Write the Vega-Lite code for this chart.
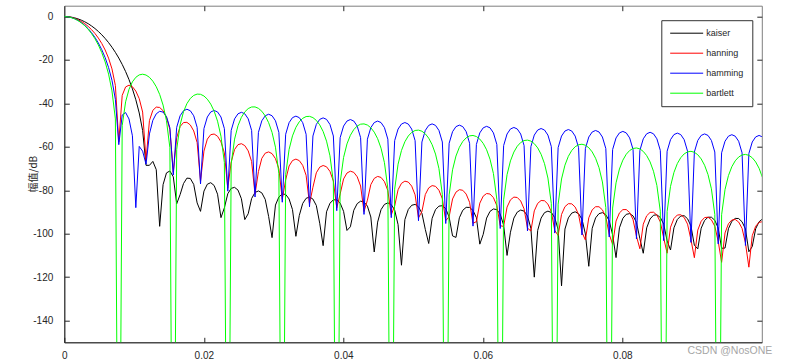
{
 "$schema": "https://vega.github.io/schema/vega-lite/v6.json",
 "width": 697.5,
 "height": 336.6,
 "autosize": {"type": "none"},
 "padding": {"left": 64.3, "top": 5.7, "right": 26.2, "bottom": 21.7},
 "background": "white",
 "config": {"view": {"stroke": "#7f7f7f", "strokeWidth": 1}, "font": "Liberation Sans"},
 "title": {"text": "CSDN @NosONE", "orient": "bottom", "anchor": "end", "fontSize": 10.5, "fontWeight": "normal", "color": "#a6a6a6", "font": "Liberation Sans", "offset": 0, "dy": -14, "dx": 10},
 "data": {"values": [
{"x":0,"kaiser":0,"hanning":0,"hamming":0,"bartlett":0},
{"x":0.000488,"kaiser":-0.07,"hanning":-0.09,"hamming":-0.11,"bartlett":-0.11},
{"x":0.000977,"kaiser":-0.26,"hanning":-0.35,"hamming":-0.43,"bartlett":-0.45},
{"x":0.001465,"kaiser":-0.59,"hanning":-0.8,"hamming":-0.98,"bartlett":-1.02},
{"x":0.001953,"kaiser":-1.06,"hanning":-1.42,"hamming":-1.75,"bartlett":-1.82},
{"x":0.002441,"kaiser":-1.66,"hanning":-2.25,"hamming":-2.76,"bartlett":-2.89},
{"x":0.00293,"kaiser":-2.4,"hanning":-3.27,"hamming":-4.03,"bartlett":-4.22},
{"x":0.003418,"kaiser":-3.28,"hanning":-4.52,"hamming":-5.57,"bartlett":-5.86},
{"x":0.003906,"kaiser":-4.32,"hanning":-6.02,"hamming":-7.41,"bartlett":-7.84},
{"x":0.004395,"kaiser":-5.51,"hanning":-7.8,"hamming":-9.6,"bartlett":-10.23},
{"x":0.004883,"kaiser":-6.86,"hanning":-9.89,"hamming":-12.18,"bartlett":-13.1},
{"x":0.005371,"kaiser":-8.38,"hanning":-12.39,"hamming":-15.25,"bartlett":-16.58},
{"x":0.005859,"kaiser":-10.09,"hanning":-15.4,"hamming":-18.92,"bartlett":-20.91},
{"x":0.006348,"kaiser":-12.0,"hanning":-19.15,"hamming":-23.46,"bartlett":-26.49},
{"x":0.006836,"kaiser":-14.12,"hanning":-24.1,"hamming":-29.35,"bartlett":-34.25},
{"x":0.007324,"kaiser":-16.48,"hanning":-31.76,"hamming":-38.15,"bartlett":-47.15},
{"x":0.007813,"kaiser":-19.1,"hanning":-57.7,"hamming":-59.0,"bartlett":-300},
{"x":0.008301,"kaiser":-22.03,"hanning":-36.32,"hamming":-45.35,"bartlett":-50.25},
{"x":0.008789,"kaiser":-25.32,"hanning":-32.42,"hamming":-44.21,"bartlett":-39.28},
{"x":0.009277,"kaiser":-29.04,"hanning":-31.59,"hamming":-47.16,"bartlett":-33.52},
{"x":0.009766,"kaiser":-33.3,"hanning":-32.3,"hamming":-54.91,"bartlett":-30.05},
{"x":0.010254,"kaiser":-38.3,"hanning":-34.31,"hamming":-88.0,"bartlett":-27.97},
{"x":0.010742,"kaiser":-44.4,"hanning":-37.79,"hamming":-59.8,"bartlett":-26.86},
{"x":0.01123,"kaiser":-52.47,"hanning":-43.98,"hamming":-62.0,"bartlett":-26.55},
{"x":0.011719,"kaiser":-68.5,"hanning":-66.2,"hamming":-68.0,"bartlett":-26.93},
{"x":0.012207,"kaiser":-68.5,"hanning":-47.88,"hamming":-54.03,"bartlett":-27.99},
{"x":0.012695,"kaiser":-66.7,"hanning":-43.16,"hamming":-47.76,"bartlett":-29.76},
{"x":0.013184,"kaiser":-70.5,"hanning":-41.69,"hamming":-44.79,"bartlett":-32.31},
{"x":0.013672,"kaiser":-96.6,"hanning":-41.86,"hamming":-43.63,"bartlett":-35.85},
{"x":0.01416,"kaiser":-77.4,"hanning":-43.35,"hamming":-43.98,"bartlett":-40.76},
{"x":0.014648,"kaiser":-72.0,"hanning":-46.36,"hamming":-46.06,"bartlett":-47.96},
{"x":0.015137,"kaiser":-71.1,"hanning":-52.04,"hamming":-51.22,"bartlett":-60.39},
{"x":0.015625,"kaiser":-73.8,"hanning":-71.7,"hamming":-73.0,"bartlett":-300},
{"x":0.016113,"kaiser":-86.2,"hanning":-55.79,"hamming":-51.02,"bartlett":-61.15},
{"x":0.016602,"kaiser":-82.0,"hanning":-50.62,"hamming":-45.69,"bartlett":-49.89},
{"x":0.01709,"kaiser":-76.9,"hanning":-48.8,"hamming":-43.37,"bartlett":-43.84},
{"x":0.017578,"kaiser":-74.4,"hanning":-48.71,"hamming":-42.68,"bartlett":-40.08},
{"x":0.018066,"kaiser":-74.55,"hanning":-49.91,"hamming":-43.37,"bartlett":-37.71},
{"x":0.018555,"kaiser":-77.3,"hanning":-52.67,"hamming":-45.69,"bartlett":-36.31},
{"x":0.019043,"kaiser":-85.8,"hanning":-58.01,"hamming":-51.02,"bartlett":-35.71},
{"x":0.019531,"kaiser":-89.7,"hanning":-75.78,"hamming":-77.1,"bartlett":-35.8},
{"x":0.02002,"kaiser":-80.4,"hanning":-61.95,"hamming":-51.58,"bartlett":-36.57},
{"x":0.020508,"kaiser":-77.2,"hanning":-56.44,"hamming":-46.25,"bartlett":-38.05},
{"x":0.020996,"kaiser":-76.5,"hanning":-54.38,"hamming":-43.93,"bartlett":-40.31},
{"x":0.021484,"kaiser":-77.8,"hanning":-54.09,"hamming":-43.24,"bartlett":-43.56},
{"x":0.021973,"kaiser":-81.8,"hanning":-55.12,"hamming":-43.93,"bartlett":-48.18},
{"x":0.022461,"kaiser":-92.6,"hanning":-57.69,"hamming":-46.25,"bartlett":-55.09},
{"x":0.022949,"kaiser":-88.1,"hanning":-62.78,"hamming":-51.58,"bartlett":-67.23},
{"x":0.023438,"kaiser":-81.6,"hanning":-79.07,"hamming":-80.4,"bartlett":-300},
{"x":0.023926,"kaiser":-79.1,"hanning":-67.03,"hamming":-52.43,"bartlett":-67.83},
{"x":0.024414,"kaiser":-78.65,"hanning":-61.21,"hamming":-47.1,"bartlett":-56.44},
{"x":0.024902,"kaiser":-79.9,"hanning":-58.99,"hamming":-44.78,"bartlett":-50.27},
{"x":0.025391,"kaiser":-83.9,"hanning":-58.54,"hamming":-44.09,"bartlett":-46.39},
{"x":0.025879,"kaiser":-93.5,"hanning":-59.43,"hamming":-44.78,"bartlett":-43.89},
{"x":0.026367,"kaiser":-90.8,"hanning":-61.86,"hamming":-47.1,"bartlett":-42.37},
{"x":0.026855,"kaiser":-83.8,"hanning":-66.74,"hamming":-52.43,"bartlett":-41.64},
{"x":0.027344,"kaiser":-81.0,"hanning":-81.81,"hamming":-83.1,"bartlett":-41.61},
{"x":0.027832,"kaiser":-80.3,"hanning":-71.37,"hamming":-53.32,"bartlett":-42.26},
{"x":0.02832,"kaiser":-81.2,"hanning":-65.27,"hamming":-47.99,"bartlett":-43.61},
{"x":0.028809,"kaiser":-84.2,"hanning":-62.9,"hamming":-45.67,"bartlett":-45.75},
{"x":0.029297,"kaiser":-92.1,"hanning":-62.33,"hamming":-44.98,"bartlett":-48.87},
{"x":0.029785,"kaiser":-101.8,"hanning":-63.12,"hamming":-45.67,"bartlett":-53.37},
{"x":0.030273,"kaiser":-86.8,"hanning":-65.42,"hamming":-47.99,"bartlett":-60.16},
{"x":0.030762,"kaiser":-83.1,"hanning":-70.13,"hamming":-53.32,"bartlett":-72.17},
{"x":0.03125,"kaiser":-81.7,"hanning":-84.18,"hamming":-85.5,"bartlett":-300},
{"x":0.031738,"kaiser":-81.9,"hanning":-75.18,"hamming":-54.19,"bartlett":-72.65},
{"x":0.032227,"kaiser":-84.0,"hanning":-68.81,"hamming":-48.86,"bartlett":-61.19},
{"x":0.032715,"kaiser":-88.9,"hanning":-66.31,"hamming":-46.54,"bartlett":-54.95},
{"x":0.033203,"kaiser":-101.2,"hanning":-65.64,"hamming":-45.85,"bartlett":-51.01},
{"x":0.033691,"kaiser":-91.6,"hanning":-66.34,"hamming":-46.54,"bartlett":-48.44},
{"x":0.03418,"kaiser":-86.05,"hanning":-68.53,"hamming":-48.86,"bartlett":-46.85},
{"x":0.034668,"kaiser":-83.7,"hanning":-73.08,"hamming":-54.19,"bartlett":-46.05},
{"x":0.035156,"kaiser":-83.1,"hanning":-86.26,"hamming":-87.6,"bartlett":-45.95},
{"x":0.035645,"kaiser":-84.05,"hanning":-78.59,"hamming":-55.0,"bartlett":-46.53},
{"x":0.036133,"kaiser":-87.0,"hanning":-71.95,"hamming":-49.67,"bartlett":-47.81},
{"x":0.036621,"kaiser":-95.2,"hanning":-69.34,"hamming":-47.35,"bartlett":-49.88},
{"x":0.037109,"kaiser":-105.5,"hanning":-68.58,"hamming":-46.66,"bartlett":-52.93},
{"x":0.037598,"kaiser":-89.9,"hanning":-69.18,"hamming":-47.35,"bartlett":-57.37},
{"x":0.038086,"kaiser":-86.0,"hanning":-71.29,"hamming":-49.67,"bartlett":-64.09},
{"x":0.038574,"kaiser":-84.4,"hanning":-75.69,"hamming":-55.0,"bartlett":-76.03},
{"x":0.039063,"kaiser":-84.4,"hanning":-88.11,"hamming":-89.4,"bartlett":-300},
{"x":0.039551,"kaiser":-85.9,"hanning":-81.69,"hamming":-55.76,"bartlett":-76.43},
{"x":0.040039,"kaiser":-89.7,"hanning":-74.78,"hamming":-50.43,"bartlett":-64.92},
{"x":0.040527,"kaiser":-98.5,"hanning":-72.05,"hamming":-48.11,"bartlett":-58.64},
{"x":0.041016,"kaiser":-96.8,"hanning":-71.21,"hamming":-47.42,"bartlett":-54.65},
{"x":0.041504,"kaiser":-89.2,"hanning":-71.74,"hamming":-48.11,"bartlett":-52.04},
{"x":0.041992,"kaiser":-86.15,"hanning":-73.76,"hamming":-50.43,"bartlett":-50.4},
{"x":0.04248,"kaiser":-85.0,"hanning":-78.03,"hamming":-55.76,"bartlett":-49.56},
{"x":0.042969,"kaiser":-85.4,"hanning":-89.78,"hamming":-91.1,"bartlett":-49.42},
{"x":0.043457,"kaiser":-87.3,"hanning":-84.56,"hamming":-56.47,"bartlett":-49.96},
{"x":0.043945,"kaiser":-92.3,"hanning":-77.37,"hamming":-51.14,"bartlett":-51.2},
{"x":0.044434,"kaiser":-108.4,"hanning":-74.53,"hamming":-48.82,"bartlett":-53.22},
{"x":0.044922,"kaiser":-94.65,"hanning":-73.62,"hamming":-48.13,"bartlett":-56.23},
{"x":0.04541,"kaiser":-88.9,"hanning":-74.08,"hamming":-48.82,"bartlett":-60.62},
{"x":0.045898,"kaiser":-86.5,"hanning":-76.02,"hamming":-51.14,"bartlett":-67.3},
{"x":0.046387,"kaiser":-85.8,"hanning":-80.16,"hamming":-56.47,"bartlett":-79.19},
{"x":0.046875,"kaiser":-86.6,"hanning":-91.3,"hamming":-92.6,"bartlett":-300},
{"x":0.047363,"kaiser":-89.1,"hanning":-87.25,"hamming":-57.14,"bartlett":-79.51},
{"x":0.047852,"kaiser":-95.8,"hanning":-79.74,"hamming":-51.81,"bartlett":-67.98},
{"x":0.04834,"kaiser":-114.5,"hanning":-76.8,"hamming":-49.49,"bartlett":-61.67},
{"x":0.048828,"kaiser":-93.5,"hanning":-75.8,"hamming":-48.8,"bartlett":-57.64},
{"x":0.049316,"kaiser":-88.85,"hanning":-76.21,"hamming":-49.49,"bartlett":-55.0},
{"x":0.049805,"kaiser":-86.9,"hanning":-78.07,"hamming":-51.81,"bartlett":-53.34},
{"x":0.050293,"kaiser":-86.5,"hanning":-82.1,"hamming":-57.14,"bartlett":-52.46},
{"x":0.050781,"kaiser":-87.6,"hanning":-92.71,"hamming":-94.0,"bartlett":-52.29},
{"x":0.05127,"kaiser":-90.6,"hanning":-89.77,"hamming":-57.76,"bartlett":-52.8},
{"x":0.051758,"kaiser":-98.0,"hanning":-81.95,"hamming":-52.43,"bartlett":-54.0},
{"x":0.052246,"kaiser":-104.5,"hanning":-78.9,"hamming":-50.11,"bartlett":-56.0},
{"x":0.052734,"kaiser":-92.9,"hanning":-77.84,"hamming":-49.42,"bartlett":-58.98},
{"x":0.053223,"kaiser":-88.9,"hanning":-78.18,"hamming":-50.11,"bartlett":-63.33},
{"x":0.053711,"kaiser":-87.3,"hanning":-79.98,"hamming":-52.43,"bartlett":-69.98},
{"x":0.054199,"kaiser":-87.1,"hanning":-83.87,"hamming":-57.76,"bartlett":-81.85},
{"x":0.054688,"kaiser":-88.45,"hanning":-94.0,"hamming":-95.3,"bartlett":-300},
{"x":0.055176,"kaiser":-92.4,"hanning":-92.14,"hamming":-58.34,"bartlett":-82.12},
{"x":0.055664,"kaiser":-101.0,"hanning":-83.99,"hamming":-53.01,"bartlett":-70.57},
{"x":0.056152,"kaiser":-101.7,"hanning":-80.85,"hamming":-50.69,"bartlett":-64.23},
{"x":0.056641,"kaiser":-92.65,"hanning":-79.72,"hamming":-50.0,"bartlett":-60.19},
{"x":0.057129,"kaiser":-89.2,"hanning":-80.0,"hamming":-50.69,"bartlett":-57.52},
{"x":0.057617,"kaiser":-87.85,"hanning":-81.74,"hamming":-53.01,"bartlett":-55.84},
{"x":0.058105,"kaiser":-87.9,"hanning":-85.54,"hamming":-58.34,"bartlett":-54.94},
{"x":0.058594,"kaiser":-89.3,"hanning":-95.22,"hamming":-96.5,"bartlett":-54.75},
{"x":0.059082,"kaiser":-92.6,"hanning":-94.43,"hamming":-58.89,"bartlett":-55.24},
{"x":0.05957,"kaiser":-104.8,"hanning":-85.92,"hamming":-53.56,"bartlett":-56.42},
{"x":0.060059,"kaiser":-100.3,"hanning":-82.69,"hamming":-51.24,"bartlett":-58.4},
{"x":0.060547,"kaiser":-92.8,"hanning":-81.49,"hamming":-50.55,"bartlett":-61.35},
{"x":0.061035,"kaiser":-89.7,"hanning":-81.72,"hamming":-51.24,"bartlett":-65.69},
{"x":0.061523,"kaiser":-88.6,"hanning":-83.38,"hamming":-53.56,"bartlett":-72.31},
{"x":0.062012,"kaiser":-88.9,"hanning":-87.07,"hamming":-58.89,"bartlett":-84.16},
{"x":0.0625,"kaiser":-91.0,"hanning":-96.34,"hamming":-97.6,"bartlett":-300},
{"x":0.062988,"kaiser":-96.1,"hanning":-96.61,"hamming":-59.41,"bartlett":-84.39},
{"x":0.063477,"kaiser":-110.0,"hanning":-87.74,"hamming":-54.08,"bartlett":-72.81},
{"x":0.063965,"kaiser":-99.3,"hanning":-84.4,"hamming":-51.76,"bartlett":-66.46},
{"x":0.064453,"kaiser":-92.8,"hanning":-83.14,"hamming":-51.07,"bartlett":-62.4},
{"x":0.064941,"kaiser":-90.05,"hanning":-83.31,"hamming":-51.76,"bartlett":-59.72},
{"x":0.06543,"kaiser":-89.1,"hanning":-84.92,"hamming":-54.08,"bartlett":-58.01},
{"x":0.065918,"kaiser":-89.6,"hanning":-88.51,"hamming":-59.41,"bartlett":-57.1},
{"x":0.066406,"kaiser":-91.8,"hanning":-97.42,"hamming":-98.7,"bartlett":-56.89},
{"x":0.066895,"kaiser":-97.5,"hanning":-98.75,"hamming":-59.9,"bartlett":-57.36},
{"x":0.067383,"kaiser":-120.0,"hanning":-89.47,"hamming":-54.57,"bartlett":-58.53},
{"x":0.067871,"kaiser":-98.45,"hanning":-86.02,"hamming":-52.25,"bartlett":-60.48},
{"x":0.068359,"kaiser":-92.8,"hanning":-84.7,"hamming":-51.56,"bartlett":-63.42},
{"x":0.068848,"kaiser":-90.3,"hanning":-84.82,"hamming":-52.25,"bartlett":-67.74},
{"x":0.069336,"kaiser":-89.6,"hanning":-86.37,"hamming":-54.57,"bartlett":-74.35},
{"x":0.069824,"kaiser":-90.2,"hanning":-89.86,"hamming":-59.9,"bartlett":-86.17},
{"x":0.070313,"kaiser":-92.6,"hanning":-98.42,"hamming":-99.7,"bartlett":-300},
{"x":0.070801,"kaiser":-98.1,"hanning":-100.83,"hamming":-60.36,"bartlett":-86.38},
{"x":0.071289,"kaiser":-124.0,"hanning":-91.11,"hamming":-55.03,"bartlett":-74.8},
{"x":0.071777,"kaiser":-97.85,"hanning":-87.55,"hamming":-52.71,"bartlett":-68.43},
{"x":0.072266,"kaiser":-92.7,"hanning":-86.17,"hamming":-52.02,"bartlett":-64.35},
{"x":0.072754,"kaiser":-90.5,"hanning":-86.24,"hamming":-52.71,"bartlett":-61.66},
{"x":0.073242,"kaiser":-89.9,"hanning":-87.72,"hamming":-55.03,"bartlett":-59.94},
{"x":0.07373,"kaiser":-90.8,"hanning":-91.13,"hamming":-60.36,"bartlett":-59.02},
{"x":0.074219,"kaiser":-93.3,"hanning":-99.37,"hamming":-100.6,"bartlett":-58.79},
{"x":0.074707,"kaiser":-100.1,"hanning":-102.88,"hamming":-60.8,"bartlett":-59.24},
{"x":0.075195,"kaiser":-115.0,"hanning":-92.67,"hamming":-55.47,"bartlett":-60.4},
{"x":0.075684,"kaiser":-97.5,"hanning":-89.01,"hamming":-53.15,"bartlett":-62.34},
{"x":0.076172,"kaiser":-92.7,"hanning":-87.57,"hamming":-52.46,"bartlett":-65.27},
{"x":0.07666,"kaiser":-90.76,"hanning":-87.58,"hamming":-53.15,"bartlett":-69.57},
{"x":0.077148,"kaiser":-90.3,"hanning":-89.02,"hamming":-55.47,"bartlett":-76.16},
{"x":0.077637,"kaiser":-91.3,"hanning":-92.33,"hamming":-60.8,"bartlett":-87.98},
{"x":0.078125,"kaiser":-94.0,"hanning":-100.27,"hamming":-101.5,"bartlett":-300},
{"x":0.078613,"kaiser":-100.6,"hanning":-104.9,"hamming":-61.22,"bartlett":-88.18},
{"x":0.079102,"kaiser":-111.0,"hanning":-94.18,"hamming":-55.89,"bartlett":-76.58},
{"x":0.07959,"kaiser":-97.3,"hanning":-90.41,"hamming":-53.57,"bartlett":-70.2},
{"x":0.080078,"kaiser":-92.9,"hanning":-88.91,"hamming":-52.88,"bartlett":-66.12},
{"x":0.080566,"kaiser":-91.07,"hanning":-88.88,"hamming":-53.57,"bartlett":-63.41},
{"x":0.081055,"kaiser":-90.75,"hanning":-90.24,"hamming":-55.89,"bartlett":-61.68},
{"x":0.081543,"kaiser":-91.8,"hanning":-93.48,"hamming":-61.22,"bartlett":-60.75},
{"x":0.082031,"kaiser":-94.8,"hanning":-101.13,"hamming":-102.4,"bartlett":-60.51},
{"x":0.08252,"kaiser":-102.3,"hanning":-106.93,"hamming":-61.63,"bartlett":-60.95},
{"x":0.083008,"kaiser":-109.0,"hanning":-95.61,"hamming":-56.3,"bartlett":-62.1},
{"x":0.083496,"kaiser":-97.3,"hanning":-91.74,"hamming":-53.98,"bartlett":-64.03},
{"x":0.083984,"kaiser":-93.2,"hanning":-90.18,"hamming":-53.29,"bartlett":-66.94},
{"x":0.084473,"kaiser":-91.5,"hanning":-90.09,"hamming":-53.98,"bartlett":-71.24},
{"x":0.084961,"kaiser":-91.3,"hanning":-91.41,"hamming":-56.3,"bartlett":-77.82},
{"x":0.085449,"kaiser":-92.5,"hanning":-94.56,"hamming":-61.63,"bartlett":-89.62},
{"x":0.085938,"kaiser":-95.6,"hanning":-101.95,"hamming":-103.2,"bartlett":-300},
{"x":0.086426,"kaiser":-103.3,"hanning":-108.97,"hamming":-62.01,"bartlett":-89.79},
{"x":0.086914,"kaiser":-107.5,"hanning":-97.0,"hamming":-56.68,"bartlett":-78.18},
{"x":0.087402,"kaiser":-97.3,"hanning":-93.01,"hamming":-54.36,"bartlett":-71.8},
{"x":0.087891,"kaiser":-93.45,"hanning":-91.39,"hamming":-53.67,"bartlett":-67.7},
{"x":0.088379,"kaiser":-91.85,"hanning":-91.26,"hamming":-54.36,"bartlett":-64.99},
{"x":0.088867,"kaiser":-91.7,"hanning":-92.53,"hamming":-56.68,"bartlett":-63.25},
{"x":0.089355,"kaiser":-93.1,"hanning":-95.59,"hamming":-62.01,"bartlett":-62.31},
{"x":0.089844,"kaiser":-96.45,"hanning":-102.74,"hamming":-104.0,"bartlett":-62.06},
{"x":0.090332,"kaiser":-105.3,"hanning":-111.04,"hamming":-62.38,"bartlett":-62.49},
{"x":0.09082,"kaiser":-107.0,"hanning":-98.34,"hamming":-57.05,"bartlett":-63.63},
{"x":0.091309,"kaiser":-97.45,"hanning":-94.24,"hamming":-54.73,"bartlett":-65.55},
{"x":0.091797,"kaiser":-93.9,"hanning":-92.56,"hamming":-54.04,"bartlett":-68.46},
{"x":0.092285,"kaiser":-92.4,"hanning":-92.38,"hamming":-54.73,"bartlett":-72.74},
{"x":0.092773,"kaiser":-92.4,"hanning":-93.58,"hamming":-57.05,"bartlett":-79.32},
{"x":0.093262,"kaiser":-93.8,"hanning":-96.57,"hamming":-62.38,"bartlett":-91.11},
{"x":0.09375,"kaiser":-97.4,"hanning":-103.49,"hamming":-104.7,"bartlett":-300},
{"x":0.094238,"kaiser":-106.7,"hanning":-113.18,"hamming":-62.74,"bartlett":-91.26},
{"x":0.094727,"kaiser":-106.6,"hanning":-99.64,"hamming":-57.41,"bartlett":-79.65},
{"x":0.095215,"kaiser":-97.7,"hanning":-95.43,"hamming":-55.09,"bartlett":-73.25},
{"x":0.095703,"kaiser":-94.3,"hanning":-93.68,"hamming":-54.4,"bartlett":-69.15},
{"x":0.096191,"kaiser":-92.95,"hanning":-93.45,"hamming":-55.09,"bartlett":-66.43},
{"x":0.09668,"kaiser":-93.0,"hanning":-94.61,"hamming":-57.41,"bartlett":-64.69},
{"x":0.097168,"kaiser":-94.5,"hanning":-97.52,"hamming":-62.74,"bartlett":-63.73},
{"x":0.097656,"kaiser":-97.8,"hanning":-104.21,"hamming":-105.4,"bartlett":-63.48},
{"x":0.098145,"kaiser":-108.3,"hanning":-115.41,"hamming":-63.08,"bartlett":-63.91},
{"x":0.098633,"kaiser":-105.9,"hanning":-100.89,"hamming":-57.75,"bartlett":-65.03},
{"x":0.099121,"kaiser":-97.7,"hanning":-96.56,"hamming":-55.43,"bartlett":-66.95},
{"x":0.099609,"kaiser":-94.5,"hanning":-94.75,"hamming":-54.74,"bartlett":-69.85},
{"x":0.100098,"kaiser":-93.2,"hanning":-94.48,"hamming":-55.43,"bartlett":-74.13}
 ]},
 "transform": [{"fold": ["kaiser", "hanning", "hamming", "bartlett"], "as": ["win", "db"]}],
 "layer": [
  {
   "mark": {"type": "line", "strokeWidth": 1, "clip": true},
   "encoding": {
    "x": {"field": "x", "type": "quantitative",
          "scale": {"domain": [0, 0.1], "nice": false, "zero": false},
          "axis": {"orient": "bottom", "values": [0, 0.02, 0.04, 0.06, 0.08], "format": "~g", "title": null, "grid": false,
                   "tickSize": -5, "tickColor": "#262626", "labelPadding": 13, "labelFontSize": 10, "labelColor": "#262626",
                   "labelFont": "Liberation Sans", "domainColor": "#262626", "labelFlush": false}},
    "y": {"field": "db", "type": "quantitative",
          "scale": {"domain": [-150, 5], "nice": false, "zero": false},
          "axis": {"orient": "left", "values": [-140, -120, -100, -80, -60, -40, -20, 0], "title": "幅值/dB", "grid": false,
                   "labelExpr": "replace(datum.label, '\u2212', '-')",
                   "tickSize": -5, "tickColor": "#262626", "labelPadding": 16.5, "labelFontSize": 10, "labelColor": "#262626",
                   "labelFont": "Liberation Sans", "domainColor": "#262626",
                   "titleFont": "Noto Sans CJK SC", "titleFontSize": 10, "titleFontWeight": "normal", "titleColor": "#262626",
                   "titleX": -31, "titleY": 168, "titleAngle": -90, "titleBaseline": "middle", "titleAlign": "center"}},
    "color": {"field": "win", "type": "nominal",
              "scale": {"domain": ["kaiser", "hanning", "hamming", "bartlett"], "range": ["#000000", "#ff0000", "#0000ff", "#00ff00"]},
              "legend": {"orient": "none", "legendX": 597, "legendY": 14.5, "title": null,
                         "symbolType": "M-1,0H7", "symbolSize": 68, "symbolStrokeWidth": 1,
                         "labelFontSize": 9, "labelFont": "Liberation Sans", "labelColor": "#262626",
                         "labelOffset": 27, "rowPadding": 10, "padding": 8,
                         "strokeColor": "#333333", "fillColor": "#ffffff"}}
   }
  },
  {
   "mark": {"type": "point", "opacity": 0, "clip": true},
   "encoding": {
    "x": {"field": "x", "type": "quantitative",
          "scale": {"domain": [0, 0.1], "nice": false, "zero": false},
          "axis": {"orient": "top", "values": [0.02, 0.04, 0.06, 0.08], "labels": false, "domain": false, "title": null, "grid": false,
                   "tickSize": -5, "tickColor": "#262626"}},
    "y": {"field": "db", "type": "quantitative",
          "scale": {"domain": [-150, 5], "nice": false, "zero": false},
          "axis": {"orient": "right", "values": [-140, -120, -100, -80, -60, -40, -20, 0], "labels": false, "domain": false, "title": null, "grid": false,
                   "tickSize": -5, "tickColor": "#262626"}}
   }
  }
 ],
 "resolve": {"axis": {"x": "independent", "y": "independent"}}
}
